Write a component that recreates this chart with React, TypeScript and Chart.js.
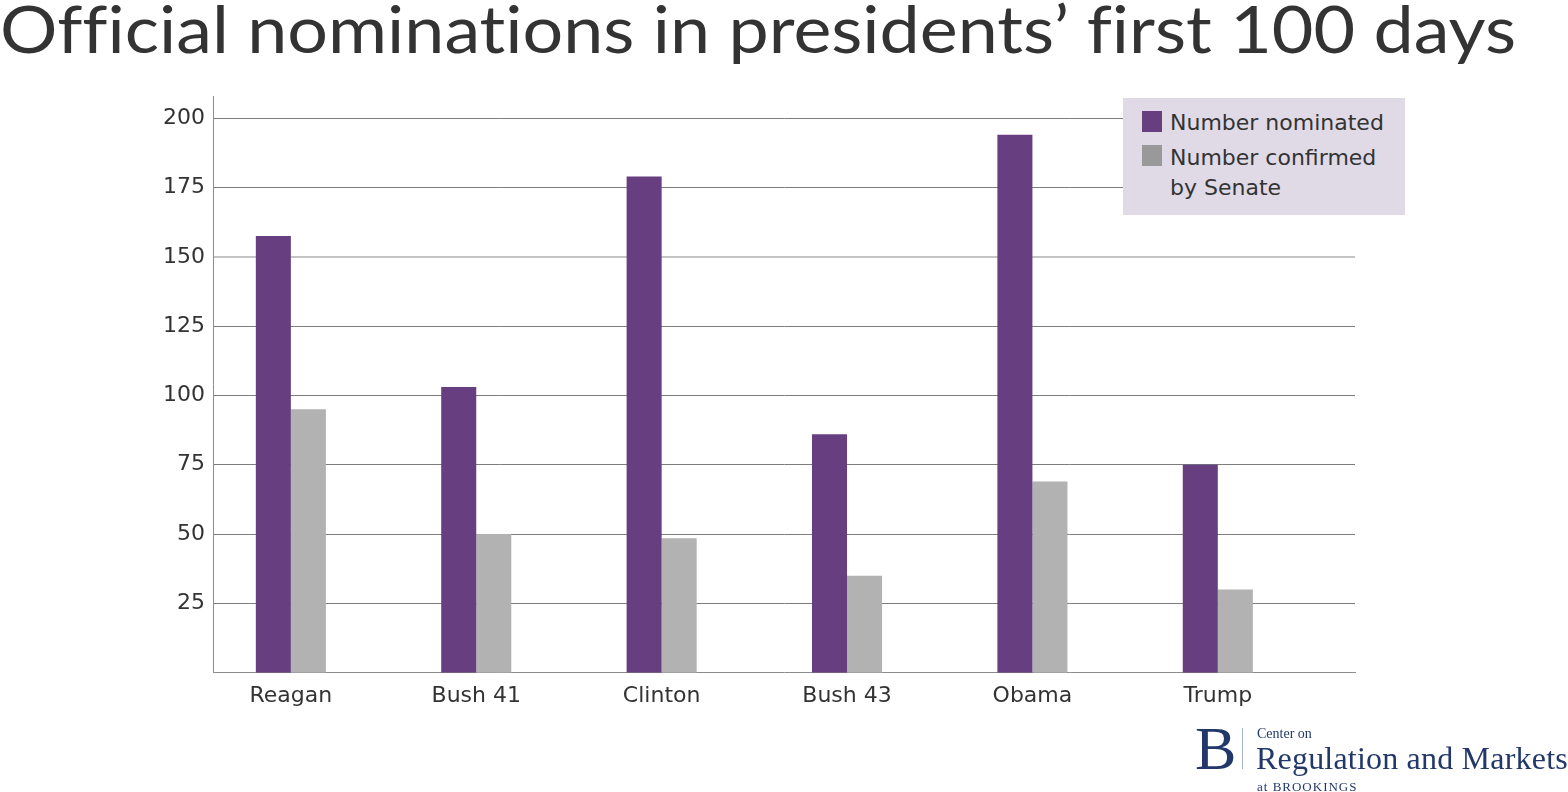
import React, { useEffect, useLayoutEffect, useRef } from 'react';
import { Chart, registerables } from 'chart.js';

Chart.register(...registerables);

const titleText = 'Official nominations in presidents’ first 100 days';
const categories = ['Reagan', 'Bush 41', 'Clinton', 'Bush 43', 'Obama', 'Trump'];
const nominated = [157.5, 103, 179, 86, 194, 75];
const confirmed = [95, 50, 48.5, 35, 69, 30];
const yTickValues = [25, 50, 75, 100, 125, 150, 175, 200];
const seriesNames = ['Number nominated', 'Number confirmed by Senate'];
const legendLines = [['Number nominated'], ['Number confirmed', 'by Senate']];
const barColors = ['#673f81', '#b2b2b2'];
const swatchColors = ['#673f81', '#999999'];
const logoLines = ['Center on', 'Regulation and Markets', 'at BROOKINGS'];

const NAVY = '#22386b';
const SANS = '"DejaVu Sans", sans-serif';

export default function App() {
  const canvasRef = useRef<HTMLCanvasElement | null>(null);
  const titleRef = useRef<HTMLDivElement | null>(null);

  useLayoutEffect(() => {
    const el = titleRef.current;
    if (!el) return;
    el.style.transform = 'none';
    const w = el.getBoundingClientRect().width;
    if (w > 0) el.style.transform = `scaleX(${1516 / w})`;
  }, []);

  useEffect(() => {
    const canvas = canvasRef.current;
    if (!canvas) return;
    const chart = new Chart(canvas, {
      type: 'bar',
      data: {
        datasets: [
          {
            label: seriesNames[0],
            data: nominated.map((v, i) => ({ x: i, y: v })),
            backgroundColor: barColors[0],
            categoryPercentage: 0.378,
            barPercentage: 1,
          },
          {
            label: seriesNames[1],
            data: confirmed.map((v, i) => ({ x: i, y: v })),
            backgroundColor: barColors[1],
            categoryPercentage: 0.378,
            barPercentage: 1,
          },
        ],
      },
      options: {
        animation: false,
        responsive: false,
        maintainAspectRatio: false,
        layout: { padding: { left: 0, right: 213, top: 96, bottom: 0 } },
        plugins: {
          legend: { display: false },
          tooltip: { enabled: false },
          title: { display: false },
        },
        scales: {
          x: {
            type: 'linear',
            min: -0.42,
            max: 5.74,
            offset: false,
            afterBuildTicks: (s: any) => {
              s.ticks = categories.map((_, i) => ({ value: i }));
            },
            afterFit: (s: any) => {
              s.height = 119.3;
            },
            grid: { display: false, offset: false, drawTicks: false },
            border: { display: true, color: '#8c8c8c', width: 1 },
            ticks: {
              callback: (v: any) => categories[v as number] ?? '',
              color: '#333333',
              font: { family: SANS, size: 22 },
              padding: 10,
              maxRotation: 0,
              autoSkip: false,
            },
          },
          y: {
            type: 'linear',
            min: 0,
            max: 208,
            afterBuildTicks: (s: any) => {
              s.ticks = yTickValues.map((v) => ({ value: v }));
            },
            afterFit: (s: any) => {
              s.width = 213;
            },
            grid: {
              color: (c: any) => (c.tick && c.tick.value === 150 ? '#c4c4c4' : '#7d7d7d'),
              lineWidth: (c: any) => (c.tick && c.tick.value === 150 ? 2 : 1),
              drawTicks: false,
            },
            border: { display: true, color: '#8c8c8c', width: 1 },
            ticks: {
              color: '#333333',
              font: { family: SANS, size: 22 },
              padding: 8,
            },
          },
        },
      },
    } as any);
    return () => chart.destroy();
  }, []);

  return (
    <div
      style={{
        position: 'absolute',
        left: 0,
        top: 0,
        width: 1568,
        height: 792,
        background: '#ffffff',
        overflow: 'hidden',
      }}
    >
      <canvas
        ref={canvasRef}
        width={1568}
        height={792}
        style={{ position: 'absolute', left: 0, top: 0, width: 1568, height: 792 }}
      />
      <div
        ref={titleRef}
        style={{
          position: 'absolute',
          left: 0,
          top: -5,
          fontFamily: 'Lato, "Open Sans", sans-serif',
          fontWeight: 400,
          fontSize: 66,
          lineHeight: 1,
          color: '#333333',
          whiteSpace: 'nowrap',
          display: 'inline-block',
          transformOrigin: 'left top',
          fontVariantLigatures: 'none',
          fontFeatureSettings: '"liga" 0, "dlig" 0',
        }}
      >
        {titleText}
      </div>
      {/* legend */}
      <div
        style={{
          position: 'absolute',
          left: 1123,
          top: 98,
          width: 282,
          height: 117,
          background: '#e0dae7',
        }}
      />
      {legendLines.map((lines, i) => (
        <React.Fragment key={i}>
          <div
            style={{
              position: 'absolute',
              left: 1142,
              top: i === 0 ? 111 : 145,
              width: 20,
              height: 21,
              background: swatchColors[i],
            }}
          />
          <div
            style={{
              position: 'absolute',
              left: 1170,
              top: i === 0 ? 107.5 : 142.5,
              fontFamily: SANS,
              fontSize: 22,
              lineHeight: '30px',
              color: '#333333',
              whiteSpace: 'nowrap',
            }}
          >
            {lines.map((l, j) => (
              <div key={j}>{l}</div>
            ))}
          </div>
        </React.Fragment>
      ))}
      {/* logo */}
      <div
        style={{
          position: 'absolute',
          left: 1195,
          top: 717,
          fontFamily: '"Liberation Serif", serif',
          fontSize: 62,
          lineHeight: 1,
          color: NAVY,
        }}
      >
        B
      </div>
      <div
        style={{ position: 'absolute', left: 1242, top: 728, width: 1, height: 41, background: '#a7b4c9' }}
      />
      <div
        style={{
          position: 'absolute',
          left: 1257,
          top: 727.3,
          fontFamily: '"Liberation Serif", serif',
          fontSize: 14,
          lineHeight: 1,
          color: NAVY,
          whiteSpace: 'nowrap',
        }}
      >
        {logoLines[0]}
      </div>
      <div
        style={{
          position: 'absolute',
          left: 1256,
          top: 741.5,
          fontFamily: '"Liberation Serif", serif',
          fontSize: 32,
          lineHeight: 1,
          letterSpacing: 0.2,
          color: NAVY,
          whiteSpace: 'nowrap',
        }}
      >
        {logoLines[1]}
      </div>
      <div
        style={{
          position: 'absolute',
          left: 1257,
          top: 779.5,
          fontFamily: '"Liberation Serif", serif',
          fontSize: 13,
          lineHeight: 1,
          letterSpacing: 1,
          color: NAVY,
          whiteSpace: 'nowrap',
        }}
      >
        {logoLines[2]}
      </div>
    </div>
  );
}
